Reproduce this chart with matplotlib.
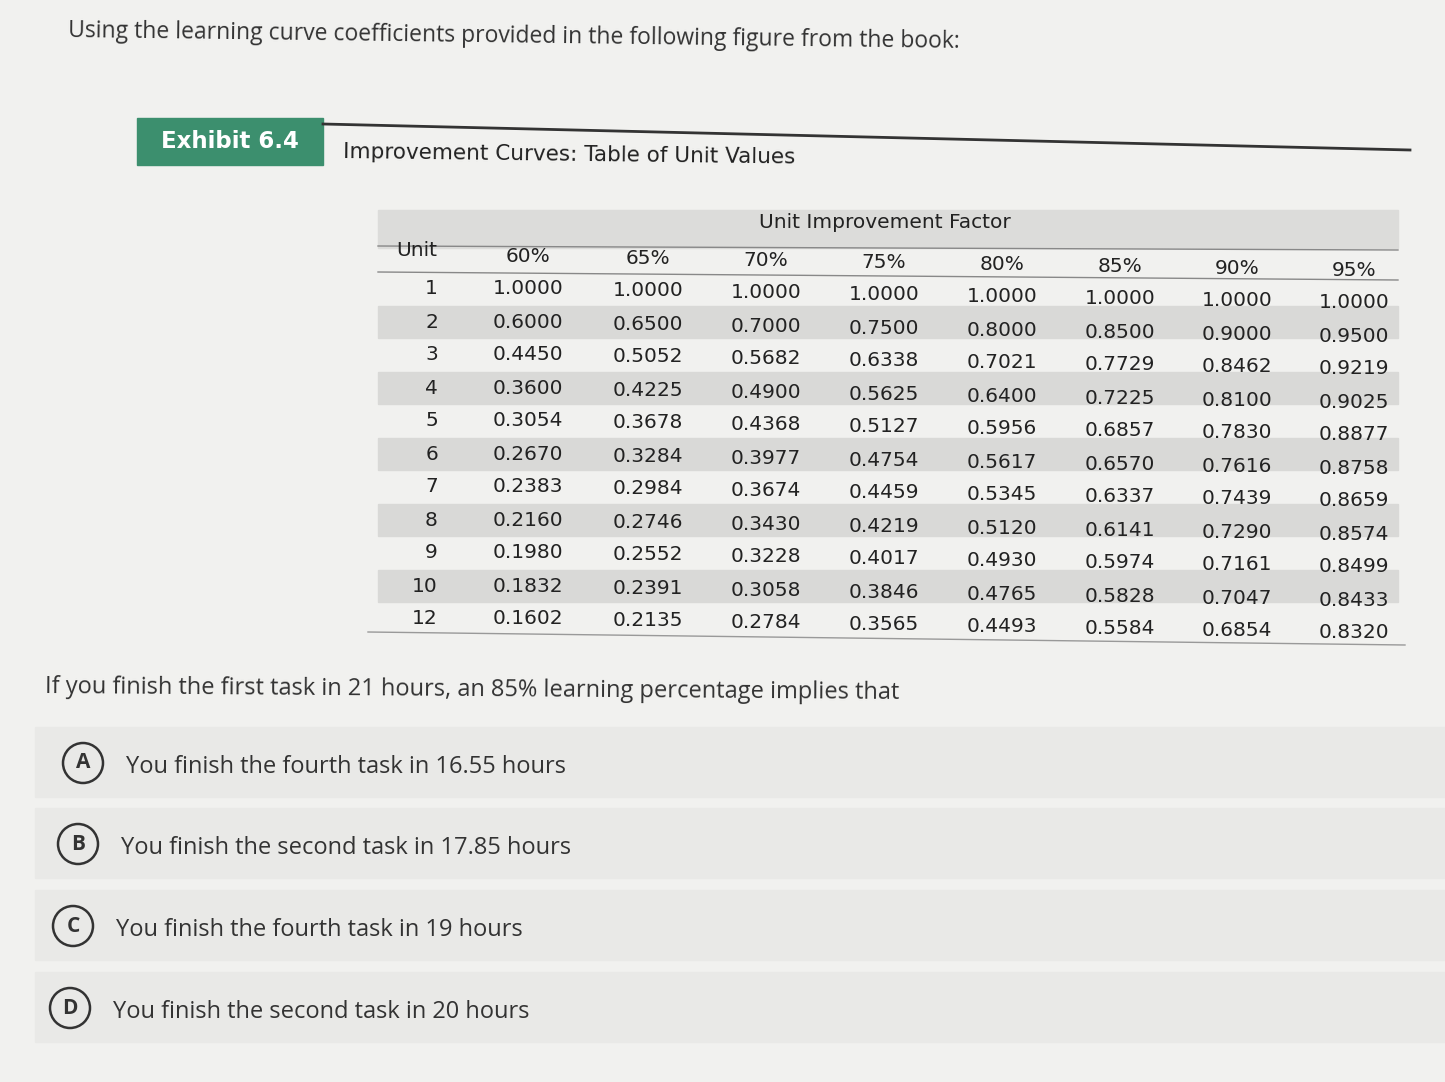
import matplotlib.pyplot as plt
from matplotlib.patches import Rectangle, Circle

# table data
units = ["1", "2", "3", "4", "5", "6", "7", "8", "9", "10", "12"]
factors = ["60%", "65%", "70%", "75%", "80%", "85%", "90%", "95%"]
col_60 = ["1.0000", "0.6000", "0.4450", "0.3600", "0.3054", "0.2670", "0.2383", "0.2160", "0.1980", "0.1832", "0.1602"]
col_65 = ["1.0000", "0.6500", "0.5052", "0.4225", "0.3678", "0.3284", "0.2984", "0.2746", "0.2552", "0.2391", "0.2135"]
col_70 = ["1.0000", "0.7000", "0.5682", "0.4900", "0.4368", "0.3977", "0.3674", "0.3430", "0.3228", "0.3058", "0.2784"]
col_75 = ["1.0000", "0.7500", "0.6338", "0.5625", "0.5127", "0.4754", "0.4459", "0.4219", "0.4017", "0.3846", "0.3565"]
col_80 = ["1.0000", "0.8000", "0.7021", "0.6400", "0.5956", "0.5617", "0.5345", "0.5120", "0.4930", "0.4765", "0.4493"]
col_85 = ["1.0000", "0.8500", "0.7729", "0.7225", "0.6857", "0.6570", "0.6337", "0.6141", "0.5974", "0.5828", "0.5584"]
col_90 = ["1.0000", "0.9000", "0.8462", "0.8100", "0.7830", "0.7616", "0.7439", "0.7290", "0.7161", "0.7047", "0.6854"]
col_95 = ["1.0000", "0.9500", "0.9219", "0.9025", "0.8877", "0.8758", "0.8659", "0.8574", "0.8499", "0.8433", "0.8320"]
columns = [col_60, col_65, col_70, col_75, col_80, col_85, col_90, col_95]

question = "If you finish the first task in 21 hours, an 85% learning percentage implies that"
letters = ["A", "B", "C", "D"]
answers = ["You finish the fourth task in 16.55 hours",
           "You finish the second task in 17.85 hours",
           "You finish the fourth task in 19 hours",
           "You finish the second task in 20 hours"]

fig = plt.figure(figsize=(14.45, 10.82), dpi=100)
fig.patch.set_facecolor("#f1f1ef")
ax = fig.add_axes([0, 0, 1, 1])
ax.set_xlim(0, 1445)
ax.set_ylim(1082, 0)
ax.axis("off")

font = "Open Sans"
ax.text(68, 36, "Using the learning curve coefficients provided in the following figure from the book:",
        fontsize=16.5, family=font, color="#333", va="center", rotation=-0.7)

# exhibit header
ax.add_patch(Rectangle((137, 118), 186, 47, color="#3c8f6e"))
ax.text(230, 141, "Exhibit 6.4", fontsize=16.5, weight="bold", color="white", ha="center", va="center")
ax.plot([323, 1410], [124, 150], color="#333", lw=2)
ax.text(343, 155, "Improvement Curves: Table of Unit Values", fontsize=15.5, color="#222",
        va="center", weight="medium", rotation=-0.7)

# table
ax.add_patch(Rectangle((378, 210), 1020, 38, color="#dcdcda"))
ax.text(885, 222, "Unit Improvement Factor", fontsize=14.5, color="#222", ha="center", va="center",
        weight="medium")
ax.plot([378, 1398], [246, 250], color="#888", lw=1)
x_unit = 438
x_cols = [528, 648, 766, 884, 1002, 1120, 1237, 1354]
y0, dy = 289, 33
ax.text(396, 250, "Unit", fontsize=14.5, color="#222", va="center", weight="medium")
for j, f in enumerate(factors):
    ax.text(x_cols[j], 256 + j * 2, f, fontsize=14.5, color="#222", ha="center", va="center", weight="medium")
ax.plot([378, 1398], [272, 280], color="#888", lw=1)
for i, u in enumerate(units):
    y = y0 + i * dy
    if i % 2 == 1:
        ax.add_patch(Rectangle((378, y - 16), 1020, 32, color="#d9d9d7"))
    ax.text(x_unit, y, u, fontsize=14.5, color="#222", ha="right", va="center", weight="medium")
    for j, col in enumerate(columns):
        ax.text(x_cols[j], y + j * 2, col[i], fontsize=14.5, color="#222", ha="center", va="center",
                weight="medium")
ax.plot([368, 1405], [632, 645], color="#999", lw=1)

ax.text(45, 690, question, fontsize=17, family=font, color="#333", va="center", rotation=-0.4)

# answer options
opt_y = [765, 846, 928, 1010]
opt_x = [83, 78, 73, 70]
for k in range(4):
    y = opt_y[k]
    ax.add_patch(Rectangle((35, y - 38), 1410, 70, color="#e9e9e7", zorder=0))
    ax.add_patch(Circle((opt_x[k], y - 2), 20, fill=False, ec="#333", lw=1.8))
    ax.text(opt_x[k], y - 2, letters[k], fontsize=15, family=font, weight="bold", color="#333",
            ha="center", va="center")
    ax.text(opt_x[k] + 43, y + 2, answers[k], fontsize=17, family=font, color="#333", va="center")

fig.savefig("out.png", dpi=100, facecolor=fig.get_facecolor())
